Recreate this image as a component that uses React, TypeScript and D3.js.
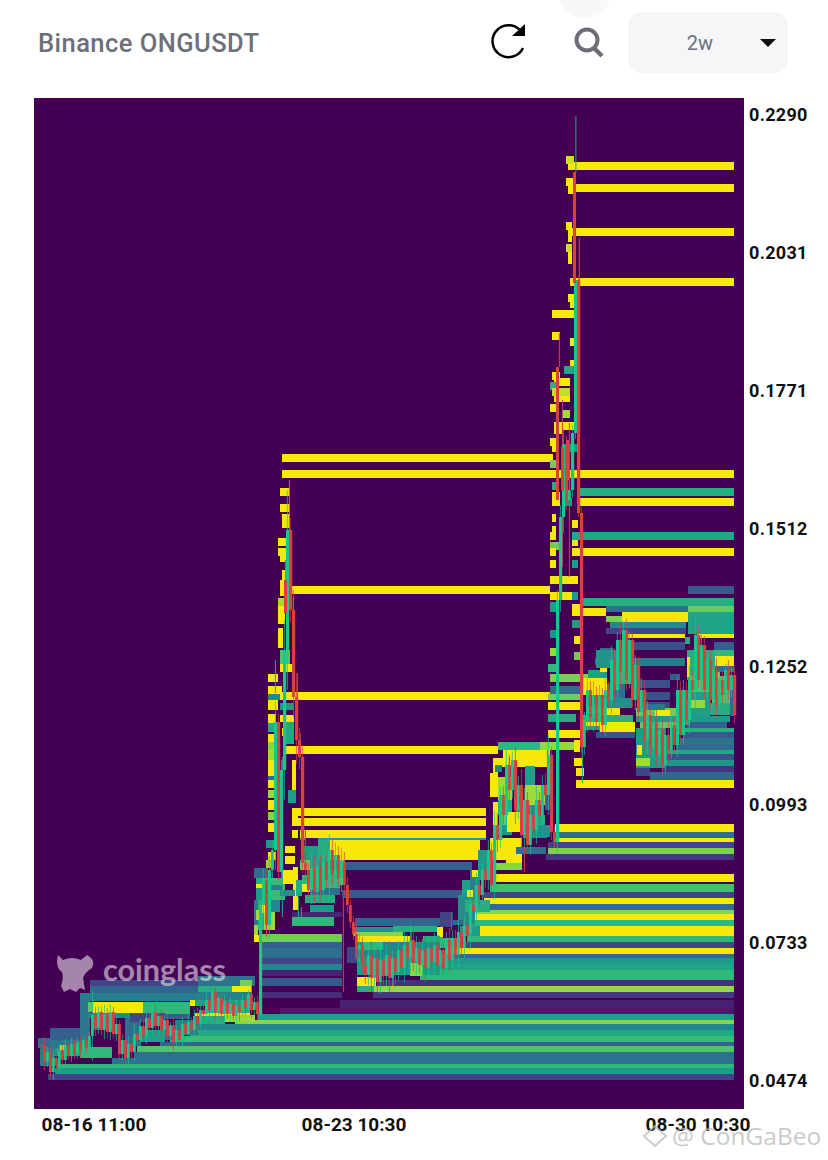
import React from "react";
import * as d3 from "d3";

type Cell = [number, number, number, number, number];

const priceTicks = [0.229, 0.2031, 0.1771, 0.1512, 0.1252, 0.0993, 0.0733, 0.0474];
const timeTicks: [number, string][] = [[54, "08-16 11:00"], [314, "08-23 10:30"], [658, "08-30 10:30"]];
const SLOTS = 694;
const E = SLOTS;

// [fromSlot, toSlot, topRow, bottomRow, liquidity 0..1]
const longLevels: Cell[] = [
  [528,E,162,170,1],[528,E,184,192,1],[530,E,228,236,1],[532,E,278,286,1],
  [242,513,454,462,1],[242,E,470,478,1],[538,E,488,496,.63],[538,E,498,506,1],[532,E,532,540,.6],[532,E,548,556,1],
  [250,510,586,594,1],[256,510,692,700,1],[260,458,746,754,1],[252,446,808,816,1],[252,446,818,826,1],[260,446,830,838,1],[260,446,838,840,.55],[290,440,840,860,1],
  [300,432,862,870,.3],[302,430,890,898,.28],[315,405,918,926,.33],
  [648,E,586,594,.28],[540,E,598,606,.63],[566,648,606,612,.36],[648,E,606,612,.76],[532,566,608,616,1],[566,582,616,622,.8],[582,648,612,622,1],[648,E,612,634,.58],[570,646,622,628,.48],[566,646,628,634,.2],[582,645,634,638,1],[657,E,634,638,1],
  [590,645,642,650,.24],[674,E,642,650,.3],[674,E,650,656,.66],[590,645,658,666,.42],[672,E,656,666,1],[675,E,666,672,.36],
  [593,630,680,688,.24],[630,640,674,680,.3],[597,630,692,700,.24],[597,630,702,710,.2],
  [643,E,728,732,.63],[643,E,732,738,.28],[640,E,738,744,.38],[636,E,744,750,.35],[627,E,750,754,.6],[623,E,754,760,.25],[623,E,760,766,.52],[622,E,766,772,.15],[610,E,772,780,.33],[536,E,780,788,1],
  [515,E,824,832,1],[515,E,832,838,.35],[515,E,838,842,1],[508,E,842,848,.2],[508,E,848,854,.8],[506,E,854,860,.16],
  [453,E,874,882,1],[450,E,884,892,.7],[443,E,892,898,.2],[444,E,898,904,1],[436,E,904,910,.35],[433,E,910,914,.82],[433,E,914,920,1],[430,E,920,926,.66],[428,E,926,936,1],[427,E,936,942,.66],[425,E,942,948,.2],[406,E,948,954,1],[400,E,954,958,.35],[400,E,958,964,.54],[395,E,964,970,.58],[380,E,970,980,.66],[338,E,980,986,.14],[333,E,986,992,.84],[333,E,992,998,.16],[300,E,1000,1008,.09],[240,E,1008,1014,.07],
  [218,E,1014,1020,.56],[195,E,1020,1024,.82],[150,E,1024,1030,.46],[150,E,1030,1036,.6],[130,E,1036,1042,.68],[120,E,1042,1046,.32],[97,E,1046,1052,.72],[95,E,1052,1058,.36],[80,E,1058,1064,.38],[17,E,1064,1068,.66],[15,E,1068,1074,.55],[8,E,1074,1080,.2],
  [221,302,934,942,.78],[221,302,942,948,.3],[221,302,948,958,.36],[221,302,958,964,.2],[221,302,964,970,.44],[221,302,970,976,.09],[221,302,978,986,.28],[221,302,992,998,.13],
];

const earlyCluster: Cell[] = [
  [-2,10,1038,1048,.35],[0,15,1048,1066,.42],[10,45,1028,1040,.3],[10,48,1040,1048,.4],[15,40,1048,1056,.56],[20,26,1045,1050,.88],
  [40,72,1047,1058,.66],[72,95,1058,1064,.38],[40,50,993,1047,.4],
  [40,158,993,1001,.42],[50,158,986,993,.33],[50,158,980,986,.2],[53,103,1002,1013,1],[48,53,1002,1012,.75],[103,150,1002,1014,.66],[150,158,1000,1006,1],[103,150,1014,1019,.3],[48,103,1013,1018,.46],
  [52,72,1018,1030,.36],[85,100,1018,1046,.36],[100,125,1030,1042,.56],[125,135,1025,1040,.36],[90,125,1013,1022,.2],[135,158,1020,1035,.42],
  [158,215,976,986,.38],[200,212,980,986,.8],[158,192,986,992,.62],[192,212,986,992,1],[158,212,992,1000,.43],[155,210,1000,1006,.56],[165,210,1006,1013,.63],[155,210,1013,1016,1],[185,215,1015,1022,.85],[160,185,1016,1024,.62],
];

const spikeOneCluster: Cell[] = [
  [240,250,488,496,1],[240,250,504,512,1],[242,250,514,528,1],[238,248,538,546,1],[238,248,548,556,1],[240,246,556,562,1],[242,252,570,580,1],[240,246,580,596,1],[238,244,598,606,.86],[238,245,606,624,1],[238,243,628,648,1],[240,250,650,664,.72],[240,255,664,672,1],
  [228,238,674,682,1],[228,242,686,694,1],[228,240,694,700,.48],[228,238,700,710,1],[228,236,714,723,1],[228,234,723,732,.62],[228,236,734,742,1],[228,236,742,750,.82],[228,234,750,760,.86],[228,236,760,776,1],[228,234,776,780,.35],[228,236,780,788,1],[228,236,790,798,.84],[228,236,800,810,1],[228,236,812,820,.82],[228,236,823,832,1],[226,234,840,848,.55],[228,236,852,860,1],[226,234,860,868,.84],
  [244,254,664,672,1],[240,254,692,700,1],[240,254,703,710,.55],[240,254,715,722,1],[242,252,728,736,1],[244,256,746,754,1],[252,256,760,790,1],[248,256,790,803,.55],[252,258,808,826,1],[252,258,830,838,1],[246,254,722,744,.6],[254,270,692,700,1],[250,270,746,754,1],
  [214,228,868,878,.35],[216,228,878,884,.62],[216,222,884,888,1],[216,228,888,900,.55],[214,218,900,925,.4],[218,228,900,930,.62],[214,218,925,935,.85],[214,222,935,942,1],[216,222,910,920,.86],
  [222,245,878,900,.68],[222,240,900,912,.46],[224,235,912,930,.85],[245,255,846,853,1],[245,255,856,864,1],[242,255,870,884,1],[253,258,867,910,1],[222,230,905,913,1],[230,242,885,890,.42],[240,255,890,896,.5],
  [262,290,846,860,.56],[266,278,838,846,.02],[278,290,840,870,.62],[260,270,860,870,.76],[270,282,860,875,.56],[282,298,870,880,.62],[298,305,860,885,.72],[262,300,875,890,.66],[256,262,880,896,.62],[262,270,884,892,1],[270,300,888,895,.36],[265,295,895,903,.62],[270,294,905,913,.55],[252,294,917,926,.66],[252,302,912,917,.1],
];

const midCluster: Cell[] = [
  [307,320,947,963,.2],[312,368,927,932,.5],[353,397,926,932,.62],[313,363,932,936,.82],[317,370,936,942,1],[397,403,927,937,1],[383,403,936,942,.62],
  [315,400,942,958,.45],[323,343,942,950,.66],[317,400,958,975,.55],[370,383,963,976,.82],[317,330,977,986,1],[330,336,977,986,1],[317,334,986,992,.63],[400,410,938,948,.66],
  [422,440,880,900,.56],[418,435,895,925,.5],[430,440,870,890,.42],[400,413,912,927,.2],[413,423,920,925,.33],[400,403,927,937,1],[402,422,938,948,.66],[432,440,870,877,1],[427,433,890,897,1],[438,450,850,880,.55],[425,450,900,912,.62],[420,440,926,936,.55],
];

const spikeTwoBase: Cell[] = [
  [458,500,742,750,.66],[500,534,742,750,.84],[455,510,758,767,1],[463,510,750,758,1],[453,458,758,780,1],[450,458,773,797,1],[453,458,802,830,1],[455,462,765,772,.45],
  [458,472,777,800,.86],[458,472,800,815,.62],[462,475,815,825,.76],[455,472,825,835,.5],
  [485,495,766,790,.56],[485,510,785,805,.86],[475,500,805,815,.5],[485,505,815,825,.62],[487,510,825,837,.5],[467,480,812,832,1],[450,482,838,860,1],[466,482,855,863,1],[453,482,863,870,.82],[476,506,847,854,.36],[483,507,832,838,.5],[505,510,795,810,.3],
];

const spikeTwoColumn: Cell[] = [
  [526,534,156,164,.92],[528,534,164,170,1],[526,534,178,186,1],[528,534,186,194,1],[526,532,222,230,1],[528,532,230,242,1],[526,532,244,252,.92],[528,532,252,264,1],[530,534,278,286,1],[528,534,294,302,1],[530,534,302,308,1],
  [512,534,310,318,1],[512,520,332,340,1],[530,536,338,346,1],[530,540,360,368,1],[524,534,366,374,.6],[512,520,372,380,1],[514,530,378,386,1],[510,516,382,390,.62],[512,530,388,396,.9],[514,530,396,402,1],[510,516,404,412,1],[522,530,410,418,.86],[514,540,422,430,1],[514,522,430,434,1],[510,516,438,446,1],[512,516,446,452,1],[522,540,444,452,.55],
  [510,516,460,468,.78],[512,516,482,490,.62],[512,520,492,506,1],[522,532,498,506,.55],[512,516,514,522,1],[532,538,520,528,1],[512,516,526,532,1],[510,516,532,540,1],[532,538,540,546,1],[510,522,542,550,.78],[510,516,548,556,1],[510,516,560,568,1],[532,538,560,568,.55],
  [510,538,576,584,1],[510,532,592,600,1],[532,538,592,600,.55],[532,542,604,616,1],[510,518,602,612,.55],[532,540,620,628,.55],[534,540,636,644,1],[510,518,630,638,.5],[510,518,648,656,.84],[534,540,652,660,.78],[508,518,664,672,.66],[510,548,674,682,.8],[510,540,686,694,.35],[508,540,694,700,.78],[508,540,702,710,1],[508,536,714,722,.62],[508,540,730,738,1],[534,540,740,752,1],[534,542,758,766,1],[536,544,768,776,1],
];

const lateCluster: Cell[] = [
  [560,573,648,655,.36],[555,573,658,665,.36],[548,567,670,678,.56],[560,567,663,672,1],[543,567,678,695,1],[556,590,650,668,.52],[575,592,668,684,.66],[567,585,684,698,.36],[555,570,698,706,.6],[558,592,698,708,.5],
  [560,580,708,715,1],[543,593,715,722,.63],[560,595,722,732,1],[540,560,722,730,.56],[556,595,732,738,.25],[546,566,722,726,1],[548,562,706,714,.78],
  [596,660,708,716,.78],[615,630,710,722,1],[604,630,716,722,.9],[600,640,722,728,.76],[596,660,716,722,.55],[604,625,704,710,.4],[596,625,728,768,.55],[597,602,745,755,1],[610,622,735,745,.36],[596,610,758,766,.86],[596,610,768,776,.2],
  [647,675,650,680,.62],[647,650,657,677,1],[645,650,637,644,.62],[650,690,676,692,.72],[672,680,672,678,.84],[677,687,687,700,1],[687,693,703,710,.15],[670,690,703,715,.62],[650,670,692,716,.56],[690,694,680,716,.36],[656,690,716,722,.55],[647,687,722,728,.3],[650,665,700,708,.84],[640,650,700,725,.62],[672,690,692,703,.72],
];

// one close per candle, left to right
const closes = [
  1045,1062,1052,1072,1058,1066,1050,1060,1046,1056,1044,1054,1042,1052,1040,1048,1036,1015,
  1028,1012,1030,1014,1032,1012,1034,1024,1054,1040,1058,1044,1052,1034,1040,1026,1036,1018,1028,1012,1026,1016,1030,1020,1036,1026,1042,1030,1040,1024,1034,1022,1030,1016,1024,1010,1014,1000,1010,992,1012,998,1014,1002,1014,1004,1016,1006,1012,1000,1008,994,1010,1002,1014,
  905,880,925,870,850,722,872,770,650,530,610,697,740,757,863,
  870,890,868,892,866,890,862,880,850,875,
  855,878,862,885,905,922,934,950,945,965,
  975,955,978,958,982,960,976,955,978,958,
  972,950,968,945,958,940,962,948,965,950,
  968,948,962,945,965,950,968,940,960,938,
  955,932,948,925,935,905,912,885,895,870,
  880,850,885,825,840,795,815,765,790,760,
  810,785,835,800,845,815,830,800,815,785,
  795,755,832,842,
  600,517,445,500,490,433,280,513,747,
  720,690,718,695,722,695,725,690,700,660,
  690,640,672,630,680,640,700,665,712,690,
  740,715,748,722,755,730,765,735,750,725,
  745,690,735,690,720,680,690,635,680,645,
  690,660,700,670,705,680,695,670,690,675,715,
];

// how far each candle's wick reaches beyond its body
const wickReach = [
  6,8,5,6,8,4,6,5,7,4,6,5,4,6,3,5,4,25,
  8,6,5,9,6,8,5,7,4,6,5,8,6,9,4,7,6,8,5,6,9,4,7,5,6,4,8,5,7,6,4,9,5,6,8,5,7,8,6,5,9,4,6,8,5,7,4,6,9,5,7,4,8,5,6,
  4,12,10,14,8,20,8,10,30,40,12,20,24,12,10,
  10,8,14,12,9,11,13,8,16,10,12,9,14,10,8,6,6,10,12,8,9,10,14,8,11,12,9,10,14,8,12,9,8,14,10,16,9,12,8,11,14,9,8,12,10,8,6,8,12,8,8,12,7,10,9,14,8,12,9,6,8,10,7,14,12,8,9,20,10,8,14,9,16,12,8,10,9,14,8,10,12,20,8,6,
  10,12,16,10,12,8,6,4,6,
  8,12,9,14,8,10,7,12,9,14,12,8,16,9,11,8,7,10,8,12,9,14,8,10,12,9,10,8,14,9,8,12,9,10,8,14,10,18,8,12,9,7,10,8,12,9,8,6,10,7,8,
];

// [slot, topRow, bottomRow, direction]
const longWicks: [number, number, number, string][] = [
  [302,898,992,"d"],[352,977,986,"d"],[370,932,947,"d"],[410,913,930,"d"],[260,907,922,"u"],[257,897,917,"u"],[225,900,937,"d"],[483,847,872,"d"],[468,757,773,"d"],[506,750,773,"d"],
  [534.5,116,172,"u"],[538,238,287,"d"],[541,747,783,"u"],[518,333,367,"d"],[521,400,567,"d"],[528,423,577,"d"],[244,560,583,"u"],[234,660,693,"u"],[244,653,763,"u"],[241,757,917,"u"],[256,673,697,"d"],[259,733,757,"d"],[252,597,610,"u"],[264,830,870,"d"],[248,480,530,"u"],
];

// extra candle bodies in the two spikes: [slot, topRow, bottomRow, direction]
const spikeBodies: [number, number, number, string][] = [
  [516,367,500,"d"],[521,447,490,"d"],[526,440,480,"d"],[533,172,283,"d"],[244,580,613,"d"],
];

const bands = d3.scaleLinear().domain([0, SLOTS]).range([40, 734]);
const PRICE_PER_ROW = 0.000188;
const priceOfRow = (row: number) => 0.229 + (115 - row) * PRICE_PER_ROW;
const yScale = d3.scaleLinear().domain([0.229, 0.0474]).range([115, 1081]);
const rowY = (row: number) => yScale(priceOfRow(row));
const levelColor = (v: number) => (v >= 1 ? "#f5e80a" : d3.interpolateViridis(v));

const DIN = "Roboto, sans-serif";
const UP = "#14c98c";
const DOWN = "#d9403f";

const candles = closes.map((c, i) => {
  const open = i === 0 ? c : closes[i - 1];
  return { i, open, close: c, rising: c < open, top: Math.min(open, c), bottom: Math.max(open, c) };
});
const drawOrder = [...candles.filter((c) => !c.rising), ...candles.filter((c) => c.rising)];

function HeatCells({ cells }: { cells: Cell[] }) {
  return (
    <g shapeRendering="crispEdges">
      {cells.map((c, i) => (
        <rect key={i} x={bands(c[0])} width={bands(c[1]) - bands(c[0])} y={rowY(c[2])} height={rowY(c[3]) - rowY(c[2])} fill={levelColor(c[4])} />
      ))}
    </g>
  );
}

export default function App() {
  const candleX = (i: number) => bands(i * 3);
  return (
    <svg width={828} height={1160} viewBox="0 0 828 1160" style={{ position: "absolute", left: 0, top: 0, background: "#fff", display: "block" }}>
      <circle cx={585} cy={-8} r={26} fill="#f4f4f5" opacity={0.6} />
      <text x={38} y={52} fontFamily={DIN} fontWeight={500} fontSize={25.5} letterSpacing={0.45} fill="#6d6f79">Binance ONGUSDT</text>
      <path d="M 520 30 A 16 16 0 1 0 523 48" fill="none" stroke="#000" strokeWidth={2.5} />
      <path d="M 512 36 L 525 36 L 525 24 Z" fill="#000" />
      <circle cx={587} cy={40} r={10.5} fill="none" stroke="#6b6d77" strokeWidth={4} />
      <line x1={594} y1={48} x2={602} y2={56} stroke="#6b6d77" strokeWidth={4.5} />
      <rect x={628} y={12} width={160} height={61} rx={14} fill="#f6f6f8" />
      <text x={700} y={50} textAnchor="middle" fontFamily={DIN} fontSize={20} fill="#6d6f79">2w</text>
      <path d="M 760 39 L 776 39 L 768 47 Z" fill="#111" />

      <rect x={34} y={98} width={710} height={1011} fill="#440154" shapeRendering="crispEdges" />
      <HeatCells cells={longLevels} />
      <HeatCells cells={earlyCluster} />
      <HeatCells cells={midCluster} />
      <HeatCells cells={spikeOneCluster} />
      <HeatCells cells={spikeTwoBase} />
      <HeatCells cells={spikeTwoColumn} />
      <HeatCells cells={lateCluster} />

      <g>
        {drawOrder.map((c) => (
          <line key={c.i} x1={candleX(c.i) + 1.4} x2={candleX(c.i) + 1.4} y1={rowY(c.top - (wickReach[c.i] ?? 4))} y2={rowY(c.bottom + (wickReach[c.i] ?? 4))} stroke={c.rising ? UP : DOWN} strokeWidth={1} opacity={0.7} />
        ))}
        {longWicks.map(([slot, top, bottom, dir], k) => (
          <line key={k} x1={bands(slot) + 1.4} x2={bands(slot) + 1.4} y1={rowY(top)} y2={rowY(bottom)} stroke={dir === "u" ? "#2aa58c" : "#c9424f"} strokeWidth={1} />
        ))}
        {drawOrder.map((c) => {
          const h = rowY(c.bottom) - rowY(c.top);
          return <rect key={c.i} x={candleX(c.i)} width={h > 40 ? 3.2 : 2.8} y={rowY(c.top)} height={Math.max(h, 1.2)} fill={c.rising ? UP : DOWN} />;
        })}
        {spikeBodies.map(([slot, top, bottom, dir], k) => (
          <rect key={k} x={bands(slot)} width={3} y={rowY(top)} height={rowY(bottom) - rowY(top)} fill={dir === "u" ? UP : DOWN} />
        ))}
      </g>

      <g opacity={0.52}>
        <path d="M 58 955 L 63 960 Q 72 956 81 960 L 87 955 Q 96 960 92 968 Q 85 972 83 978 L 85 990 L 80 988 L 76 992 L 70 989 L 64 992 L 61 986 Q 64 978 62 972 Q 55 968 58 955 Z" fill="#fff" />
        <text x={103} y={981} fontFamily="Lato, sans-serif" fontWeight={700} fontSize={30} fill="#fff" textLength={123} lengthAdjust="spacingAndGlyphs">coinglass</text>
      </g>

      {priceTicks.map((p) => (
        <text key={p} x={749} y={yScale(p) + 6} fontFamily={DIN} fontWeight={700} fontSize={18} letterSpacing={0.3} fill="#111">{p.toFixed(4)}</text>
      ))}
      {timeTicks.map(([slot, label]) => (
        <text key={label} x={bands(slot)} y={1131} textAnchor="middle" fontFamily={DIN} fontWeight={700} fontSize={19} fill="#111">{label}</text>
      ))}
      <g opacity={0.75}>
        <path d="M 644 1136 L 655 1126 L 666 1136 L 655 1146 Z" fill="none" stroke="#bbb" strokeWidth={2} />
        <text x={672} y={1145} fontFamily="'Open Sans', sans-serif" fontSize={24.5} fill="#b9b9b9">@ ConGaBeo</text>
      </g>
    </svg>
  );
}
